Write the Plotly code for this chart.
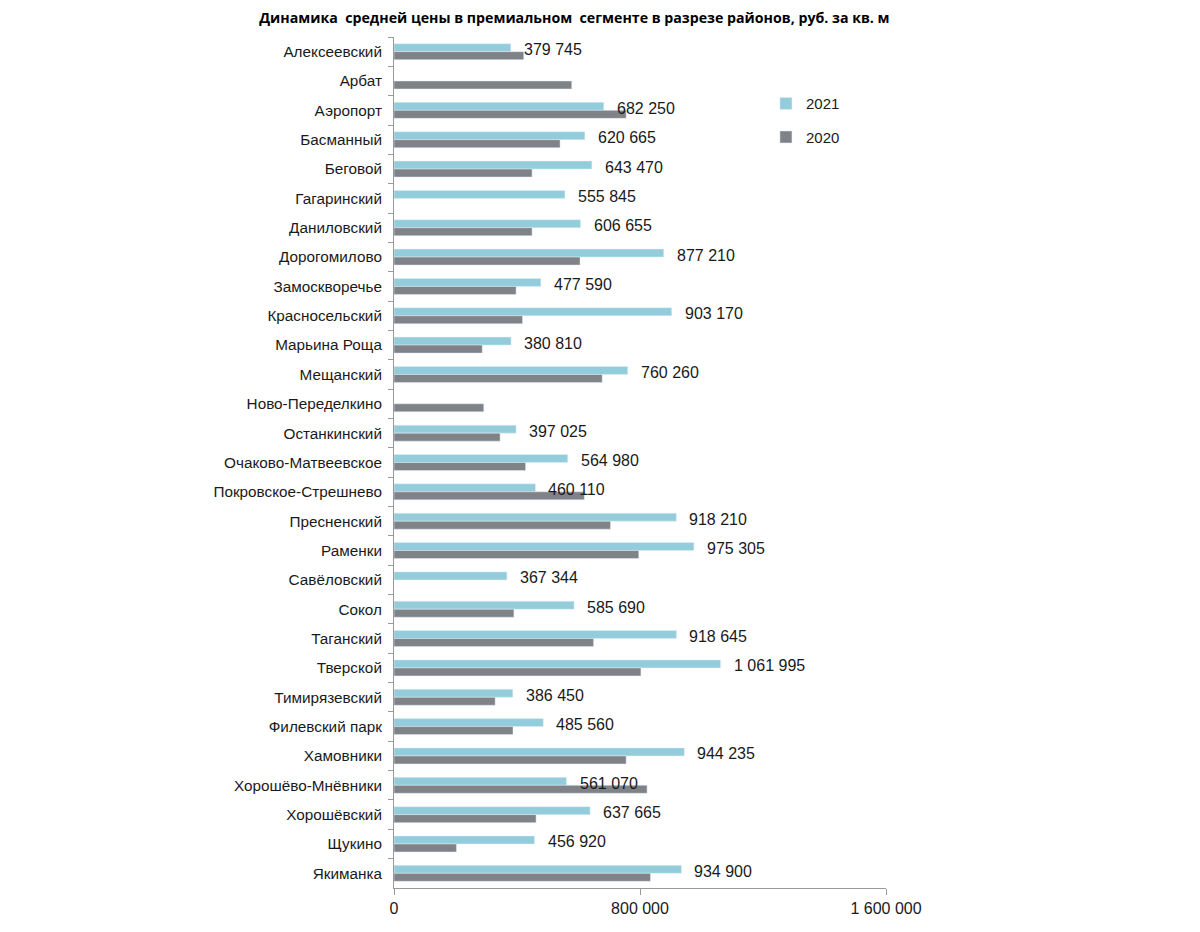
import plotly.graph_objects as go

categories = ["Алексеевский", "Арбат", "Аэропорт", "Басманный", "Беговой", "Гагаринский",
              "Даниловский", "Дорогомилово", "Замоскворечье", "Красносельский", "Марьина Роща",
              "Мещанский", "Ново-Переделкино", "Останкинский", "Очаково-Матвеевское",
              "Покровское-Стрешнево", "Пресненский", "Раменки", "Савёловский", "Сокол",
              "Таганский", "Тверской", "Тимирязевский", "Филевский парк", "Хамовники",
              "Хорошёво-Мнёвники", "Хорошёвский", "Щукино", "Якиманка"]

values_2021 = [379745, None, 682250, 620665, 643470, 555845, 606655, 877210, 477590, 903170,
               380810, 760260, None, 397025, 564980, 460110, 918210, 975305, 367344, 585690,
               918645, 1061995, 386450, 485560, 944235, 561070, 637665, 456920, 934900]

values_2020 = [422000, 578000, 755000, 540000, 449000, None, 449000, 605000, 397000, 418000,
               287000, 677000, 292000, 345000, 428000, 619000, 704000, 796000, None, 390000,
               649000, 803000, 329000, 387000, 755000, 823000, 462000, 203000, 834000]

x_tickvals = [0, 800000, 1600000]
x_ticktext = ["0", "800 000", "1 600 000"]

title_text = "Динамика  средней цены в премиальном  сегменте в разрезе районов, руб. за кв. м"


def fmt(v):
    return f"{v:,}".replace(",", " ")


fig = go.Figure()
fig.add_trace(go.Bar(y=categories, x=values_2021, orientation="h", name="2021",
                     marker=dict(color="#93CDDB"), legendgroup="a"))
fig.add_trace(go.Bar(y=categories, x=values_2020, orientation="h", name="2020",
                     marker=dict(color="#7F8287"), legendgroup="b"))

for c, v in zip(categories, values_2021):
    if v is None:
        continue
    fig.add_annotation(x=v, y=c, text=fmt(v), showarrow=False, xanchor="left",
                       xshift=11, yshift=2,
                       font=dict(family="Liberation Sans, Arial", size=16, color="#1a1a1a"))

fig.update_layout(
    width=1200, height=932,
    margin=dict(l=386, r=322, t=29, b=52),
    plot_bgcolor="white", paper_bgcolor="white",
    barmode="group", bargap=0.455, bargroupgap=0,
    title=dict(text=title_text, x=0.472, xanchor="center", y=0.9895, yanchor="middle",
               font=dict(family="Open Sans, Liberation Sans", size=14.2, color="#000000", weight="bold")),
    legend=dict(x=0.756, y=0.941, xanchor="left", yanchor="top", traceorder="grouped",
                tracegroupgap=11, font=dict(family="Liberation Sans, Arial", size=15, color="#1a1a1a"),
                bgcolor="rgba(0,0,0,0)"),
    showlegend=True,
)

fig.update_xaxes(range=[0, 1600000], tickvals=x_tickvals, ticktext=x_ticktext,
                 showgrid=False, zeroline=False, showline=True, linecolor="#9a9a9a", linewidth=1,
                 ticks="outside", ticklen=6, tickcolor="#9a9a9a",
                 tickfont=dict(family="Liberation Sans, Arial", size=16, color="#1a1a1a"))
fig.update_yaxes(autorange="reversed", type="category", showgrid=False, zeroline=False,
                 showline=True, linecolor="#9a9a9a", linewidth=1,
                 ticks="outside", ticklen=5, tickcolor="#9a9a9a", tickson="boundaries",
                 ticklabelstandoff=8,
                 tickfont=dict(family="Liberation Sans, Arial", size=15.3, color="#1a1a1a"))

fig.write_html("out.html")
